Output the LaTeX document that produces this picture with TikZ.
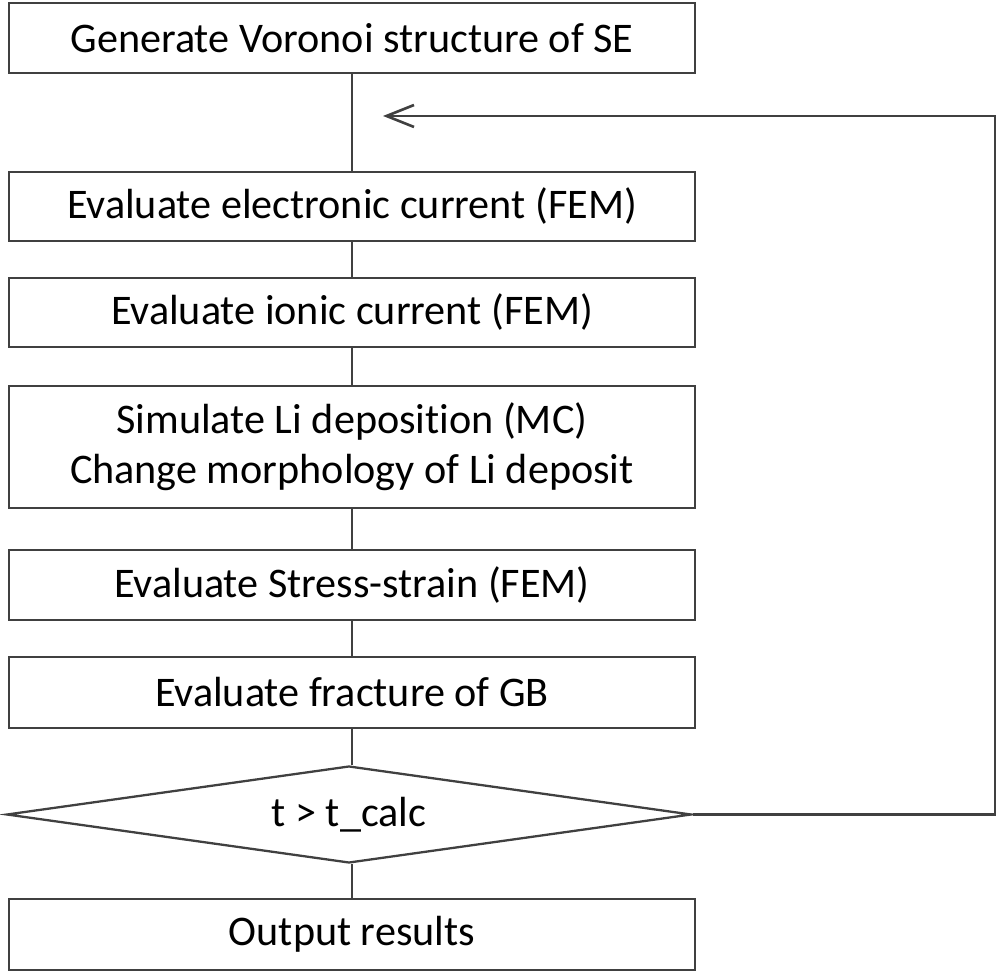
\documentclass[tikz,border=0pt]{standalone}
\usepackage{fontspec}
\setmainfont{Carlito}[Ligatures=NoCommon]
\usepackage{tikz}
\usetikzlibrary{arrows.meta, positioning, calc, shapes}
\usepackage{xcolor}
\definecolor{edge}{RGB}{64,64,64}

\tikzset{
  stepbox/.style={draw=edge, line width=1.5pt, rectangle, minimum width=13.72cm,
    minimum height=1.4cm, align=center, inner sep=0pt,
    font=\fontsize{24}{28.5}\selectfont},
  check/.style={draw=edge, line width=1.3pt, diamond, aspect=7.06, minimum width=13.7cm,
    minimum height=1.94cm, inner sep=0pt, font=\fontsize{24}{28.5}\selectfont},
  link/.style={draw=edge, line width=1.5pt},
}

\begin{document}
\begin{tikzpicture}[x=0.02cm, y=-0.02cm]
  \useasboundingbox (0,0) rectangle (998,973);
  \node[stepbox] (gen) at (352,38) {Generate Voronoi structure of SE};
  \node[stepbox, minimum height=1.38cm] (elec) at (352,206.5) {Evaluate electronic current (FEM)};
  \node[stepbox, minimum height=1.38cm] (ion) at (352,312.5) {Evaluate ionic current (FEM)};
  \node[stepbox, minimum height=2.44cm] (depo) at (352,447) {Simulate Li deposition (MC)\\Change morphology of Li deposit};
  \node[stepbox] (stress) at (352,585) {Evaluate Stress-strain (FEM)};
  \node[stepbox, minimum height=1.42cm] (frac) at (352,692.5) {Evaluate fracture of GB};
  \node[check] (dec) at (349,814.5) {t > t\_calc};
  \node[stepbox, minimum height=1.42cm] (out) at (352,934.5) {Output results};
  % main chain
  \draw[link] (gen) -- (elec) -- (ion) -- (depo) -- (stress) -- (frac);
  \draw[link] (frac.south) -- (frac.south |- dec.north);
  \draw[link] (out.north |- dec.south) -- (out.north);
  % loop back
  \coordinate (back) at (383,116);
  \draw[link, -{Straight Barb[length=5.5mm, width=4.4mm, line width=1.5pt]}]
    (dec.east) -- (995,814.5) |- (back);
\end{tikzpicture}
\end{document}
